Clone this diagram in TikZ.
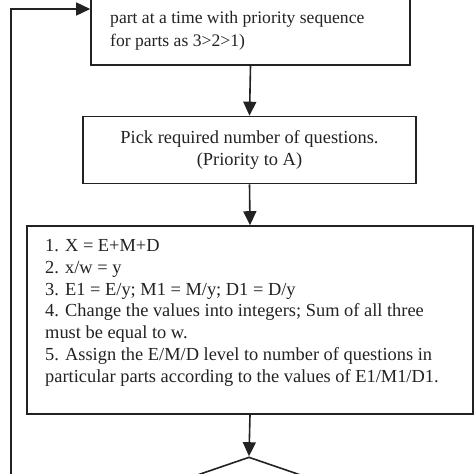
\documentclass[tikz,border=0pt]{standalone}
\usepackage{fontspec}
\setmainfont{Liberation Serif}
\usetikzlibrary{arrows.meta,shapes.geometric}
\definecolor{ink}{HTML}{222222}
\tikzset{
  box/.style={draw=ink, line width=1.6pt, rectangle, inner sep=0pt},
  txt/.style={text=ink, font=\fontsize{18.4}{21.7}\selectfont, inner sep=0pt, align=left},
  arr/.style={draw=ink, line width=1.6pt, -{Triangle[length=14pt,width=13pt]}},
  dec/.style={draw=ink, line width=1.6pt, diamond, inner sep=0pt}
}
\begin{document}
\begin{tikzpicture}[x=1pt,y=-1pt]
\useasboundingbox (0,0) rectangle (474,474);
\clip (0,0) rectangle (474,474);
\node[box, minimum width=319pt, minimum height=112pt] (b1) at (250.5,9) {};
\node[txt, anchor=base west, font=\fontsize{17.6}{23}\selectfont] (t1) at (110,46) {part at a time with priority sequence\\for parts as 3>2>1)};
\node[box, minimum width=333pt, minimum height=67pt] (b2) at (249.5,150) {};
\node[txt, anchor=base, align=center, font=\fontsize{18.4}{22}\selectfont] (t2) at (249.5,165) {Pick required number of questions.\\(Priority to A)};
\node[box, minimum width=446pt, minimum height=188pt] (b3) at (250,320) {};
\node[txt, anchor=base west] (t3) at (45,382) {1. X = E+M+D\\2. x/w = y\\3. E1 = E/y; M1 = M/y; D1 = D/y\\4. Change the values into integers; Sum of all three\\must be equal to w.\\5. Assign the E/M/D level to number of questions in\\particular parts according to the values of E1/M1/D1.};
\node[dec, minimum width=174pt, minimum height=60pt] (d) at (249,487) {};
\coordinate (fb) at (11,490);
\draw[arr] (b1.south) -- (b2.north);
\draw[arr] (b2.south) -- (b3.north);
\draw[arr] (b3.south) -- (d.north);
\draw[arr] (fb) |- (b1.west);
\end{tikzpicture}
\end{document}
